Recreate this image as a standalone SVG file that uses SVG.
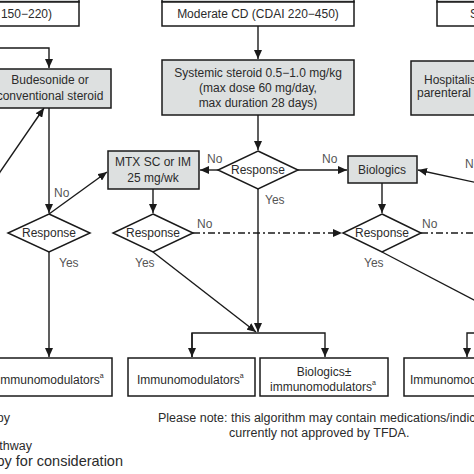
<svg xmlns="http://www.w3.org/2000/svg" width="474" height="474" viewBox="0 0 474 474">
<style>
text{font-family:"Liberation Sans",Arial,sans-serif;font-size:12px;fill:#2b2b2b}
.box{fill:#fff;stroke:#1a1a1a;stroke-width:1.5}
.gbox{fill:#dde0e0;stroke:#1a1a1a;stroke-width:1.5}
.hdr{fill:#d4d6d6;stroke:#1a1a1a;stroke-width:1.5}
.c{text-anchor:middle}
.lbl{fill:#555}
.ln{fill:none;stroke:#1a1a1a;stroke-width:1.4}
.dd{fill:none;stroke:#1a1a1a;stroke-width:1.4;stroke-dasharray:7 3 2 3}
.note{font-size:12.5px}
.sup{font-size:7px}
</style>
<defs>
<marker id="ah" markerWidth="9" markerHeight="8" refX="9" refY="4" orient="auto" markerUnits="userSpaceOnUse">
<path d="M0,0 L9,4 L0,8 z" fill="#1a1a1a"/>
</marker>
</defs>

<g id="connectors">
<path class="ln" d="M-5,48 H49 V68" marker-end="url(#ah)"/>
<path class="ln" d="M258,26 V59" marker-end="url(#ah)"/>
<path class="ln" d="M-2,175 L44,108" marker-end="url(#ah)"/>
<path class="ln" d="M49,108 V213" marker-end="url(#ah)"/>
<path class="ln" d="M49,214 L107,172" marker-end="url(#ah)"/>
<path class="ln" d="M153,189 V213" marker-end="url(#ah)"/>
<path class="ln" d="M258,115 V150" marker-end="url(#ah)"/>
<path class="ln" d="M218,170 H200" marker-end="url(#ah)"/>
<path class="ln" d="M298,170 H347" marker-end="url(#ah)"/>
<path class="ln" d="M478,183 L418,170" marker-end="url(#ah)"/>
<path class="ln" d="M382,183 V213" marker-end="url(#ah)"/>
<path class="dd" d="M193,233 H342" marker-end="url(#ah)"/>
<path class="dd" d="M421,233 H478"/>
<path class="ln" d="M49,252 V357" marker-end="url(#ah)"/>
<path class="ln" d="M258,189 V332" marker-end="url(#ah)"/>
<path class="ln" d="M153,252 L256,332" marker-end="url(#ah)"/>
<path class="ln" d="M192,357 V333 H325 V357" marker-end="url(#ah)"/>
<path class="ln" d="M192,333 V357" marker-end="url(#ah)"/>
<path class="ln" d="M382,252 L478,302"/>
<path class="ln" d="M478,333 H467 V357" marker-end="url(#ah)"/>
<text class="lbl" x="54" y="197">No</text>
<text class="lbl" x="207" y="163">No</text>
<text class="lbl" x="322" y="163">No</text>
<text class="lbl" x="465" y="168">No</text>
<text class="lbl" x="197" y="228">No</text>
<text class="lbl" x="422" y="228">No</text>
<text class="lbl" x="265" y="204">Yes</text>
<text class="lbl" x="59" y="267">Yes</text>
<text class="lbl" x="135" y="267">Yes</text>
<text class="lbl" x="364" y="267">Yes</text>
</g>

<g id="mild">
<rect class="hdr" x="-30" y="-20" width="109" height="22"/>
<rect class="box" x="-30" y="2" width="109" height="24"/>
<text x="52" y="18" text-anchor="end">Mild CD (CDAI 150−220)</text>
</g>
<g id="moderate">
<rect class="hdr" x="162" y="-20" width="192" height="22"/>
<rect class="box" x="162" y="2" width="192" height="24"/>
<text class="c" x="258" y="18">Moderate CD (CDAI 220−450)</text>
</g>
<g id="severe">
<rect class="hdr" x="437" y="-20" width="100" height="22"/>
<rect class="box" x="437" y="2" width="100" height="24"/>
<text x="470" y="18">Severe CD</text>
</g>

<g id="budesonide">
<rect class="gbox" x="-12" y="69" width="123" height="39"/>
<text class="c" x="50" y="84">Budesonide or</text>
<text class="c" x="50" y="100">conventional steroid</text>
</g>
<g id="steroid">
<rect class="gbox" x="162" y="60" width="192" height="55"/>
<text class="c" x="258" y="77">Systemic steroid 0.5−1.0 mg/kg</text>
<text class="c" x="258" y="92">(max dose 60 mg/day,</text>
<text class="c" x="258" y="107">max duration 28 days)</text>
</g>
<g id="hospital">
<rect class="gbox" x="411" y="61" width="100" height="54"/>
<text x="424" y="84">Hospitalisation</text>
<text x="417" y="97">parenteral</text>
</g>
<g id="mtx">
<rect class="gbox" x="108" y="151" width="91" height="38"/>
<text class="c" x="153" y="166">MTX SC or IM</text>
<text class="c" x="153" y="182">25 mg/wk</text>
</g>
<g id="biologics">
<rect class="gbox" x="348" y="156" width="69" height="27"/>
<text class="c" x="382" y="174">Biologics</text>
</g>

<g id="resp1">
<polygon class="box" points="49,214 90,233 49,252 8,233"/>
<text class="c" x="49" y="237">Response</text>
</g>
<g id="resp2">
<polygon class="box" points="153,214 193,233 153,252 113,233"/>
<text class="c" x="153" y="237">Response</text>
</g>
<g id="resp3">
<polygon class="box" points="258,151 298,170 258,189 218,170"/>
<text class="c" x="258" y="174">Response</text>
</g>
<g id="resp4">
<polygon class="box" points="382,214 421,233 382,252 343,233"/>
<text class="c" x="382" y="237">Response</text>
</g>

<g id="out1">
<rect class="box" x="-12" y="358" width="124" height="38"/>
<text x="-3" y="384">Immunomodulators<tspan class="sup" dy="-6">a</tspan></text>
</g>
<g id="out2">
<rect class="box" x="128" y="358" width="127" height="38"/>
<text x="137" y="384">Immunomodulators<tspan class="sup" dy="-6">a</tspan></text>
</g>
<g id="out3">
<rect class="box" x="260" y="358" width="128" height="38"/>
<text class="c" x="324" y="376">Biologics±</text>
<text x="270" y="391">immunomodulators<tspan class="sup" dy="-6">a</tspan></text>
</g>
<g id="out4">
<rect class="box" x="404" y="358" width="100" height="38"/>
<text x="410" y="384">Immunomodulators<tspan class="sup" dy="-6">a</tspan></text>
</g>

<g id="legend">
<text class="note" x="10" y="422" text-anchor="end">therapy</text>
<text class="note" x="32" y="450" text-anchor="end">pathway</text>
<text class="note" x="123" y="466" text-anchor="end" style="font-size:14.5px">therapy for consideration</text>
</g>
<g id="note">
<text class="note" x="158" y="422">Please note: this algorithm may contain medications/indications</text>
<text class="note" x="229" y="437">currently not approved by TFDA.</text>
</g>
</svg>
